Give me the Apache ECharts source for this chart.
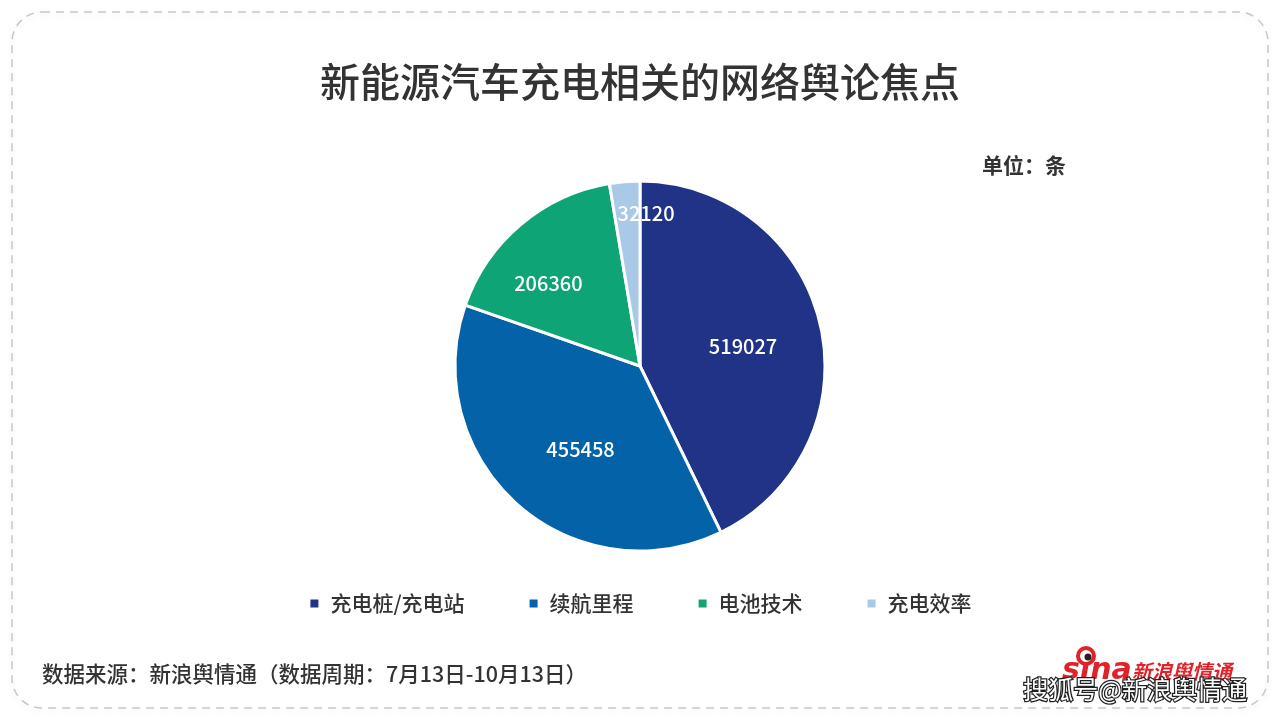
<!DOCTYPE html>
<html><head><meta charset="utf-8">
<script src="https://cdn.jsdelivr.net/npm/echarts@6/dist/echarts.min.js"></script>
<style>html,body{margin:0;padding:0;background:#fff}#c{width:1280px;height:720px}</style>
</head><body><div id="c"></div>
<script>
const categories = ['充电桩/充电站', '续航里程', '电池技术', '充电效率'];
const values = [519027, 455458, 206360, 32120];
const colors = ['#213387', '#0462A8', '#0FA476', '#A9C9E7'];
const labelOffsets = [[10, 2], [4, 12], [-30, -10], [14, -57]];
const FONT = '"Noto Sans CJK SC", "Noto Sans", sans-serif';

const chart = echarts.init(document.getElementById('c'), null, {renderer: 'canvas'});
const data = categories.map((n, i) => ({
  name: n, value: values[i],
  itemStyle: {color: colors[i]},
  label: {offset: labelOffsets[i]}
}));
chart.setOption({
  backgroundColor: '#fff',
  animation: false,
  title: {
    text: '新能源汽车充电相关的网络舆论焦点',
    left: 'center', top: 57,
    textStyle: {fontFamily: FONT, fontSize: 40, fontWeight: 500, color: '#333'}
  },
  legend: {
    bottom: 101, left: 'center',
    icon: 'rect', itemWidth: 10, itemHeight: 10, itemGap: 63,
    textStyle: {fontFamily: FONT, fontSize: 21, fontWeight: 500, color: '#333', padding: [0, 0, 0, 6]},
    data: categories
  },
  graphic: [
    {type: 'rect', shape: {x: 12, y: 12, width: 1256, height: 696, r: 30},
     style: {fill: 'none', stroke: '#c8c8c8', lineWidth: 1.5, lineDash: [8, 6],
       shadowBlur: 6, shadowColor: 'rgba(0,0,0,0.12)', shadowOffsetY: 2}, z: -1},
    {type: 'text', left: 982, top: 155,
     style: {text: '单位：条', fontFamily: FONT, fontSize: 21, fontWeight: 'bold', fill: '#333'}},
    {type: 'text', left: 42, top: 663,
     style: {text: '数据来源：新浪舆情通（数据周期：7月13日-10月13日）', fontFamily: FONT, fontSize: 21.5, fontWeight: 500, fill: '#333'}},
    // sina logo approximation
    {type: 'circle', shape: {cx: 1086, cy: 656, r: 8}, style: {fill: '#fff', stroke: '#e0232a', lineWidth: 4}, z: 10},
    {type: 'circle', shape: {cx: 1088, cy: 657, r: 3.5}, style: {fill: '#222'}, z: 11},
    {type: 'text', left: 1062, top: 656,
     style: {text: 'sina', fontFamily: 'DejaVu Sans', fontSize: 30, fontWeight: 'bold', fontStyle: 'italic', fill: '#e0232a'}},
    {type: 'text', left: 1132, top: 661,
     style: {text: '新浪舆情通', fontFamily: FONT, fontSize: 20, fontWeight: 'bold', fontStyle: 'italic', fill: '#e0232a'}},
    {type: 'text', left: 1022, top: 676,
     style: {text: '搜狐号@新浪舆情通', fontFamily: FONT, fontSize: 25, fill: '#fff', stroke: '#222', lineWidth: 2.5}, z: 20}
  ],
  series: [{
    type: 'pie',
    center: ['50%', 366],
    radius: [0, 185],
    startAngle: 90,
    clockwise: true,
    avoidLabelOverlap: false,
    itemStyle: {borderColor: '#fff', borderWidth: 3},
    label: {show: true, position: 'inside', formatter: '{c}', color: '#fff',
      fontFamily: FONT, fontSize: 20, fontWeight: 500},
    labelLine: {show: false},
    emphasis: {disabled: true},
    data: data
  }]
});
</script></body></html>
